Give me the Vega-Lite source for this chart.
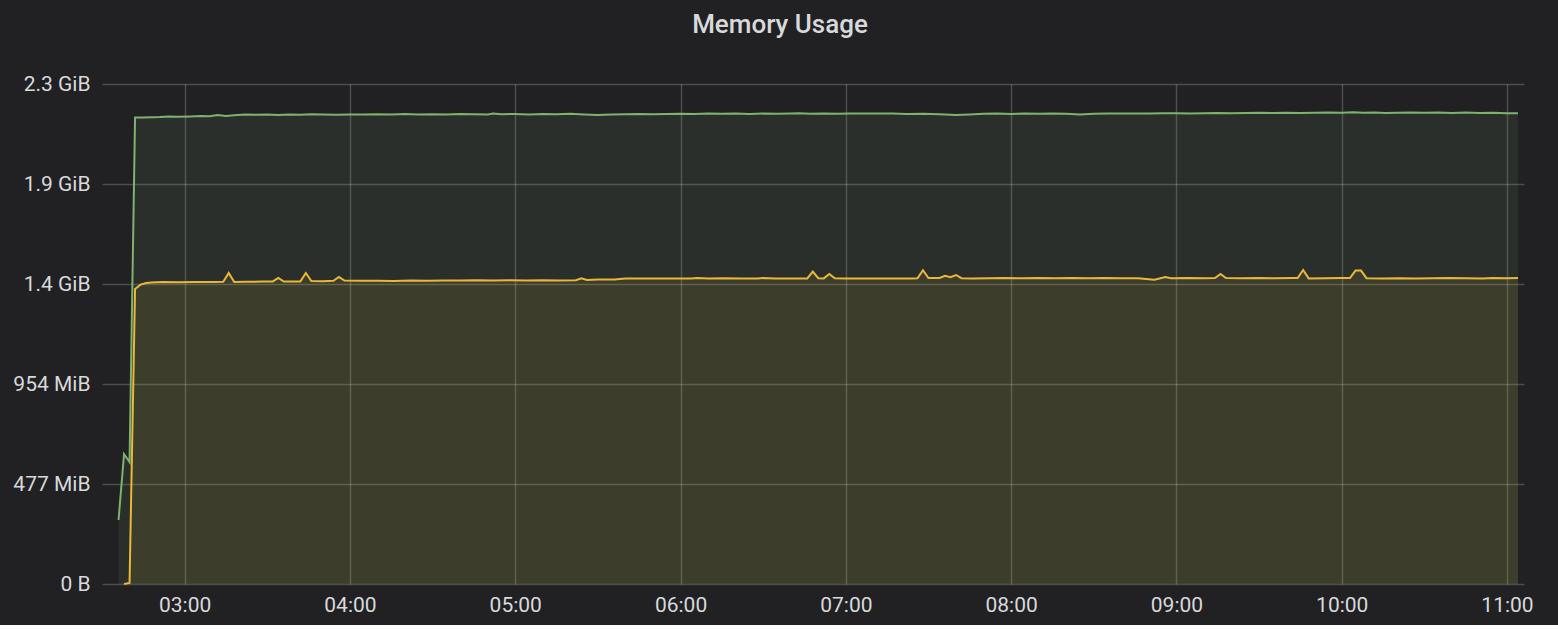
{
  "$schema": "https://vega.github.io/schema/vega-lite/v6.json",
  "width": 1422,
  "height": 500,
  "padding": {"left": 12, "top": 12, "right": 34, "bottom": 10},
  "background": "#212124",
  "title": {
    "text": "Memory Usage",
    "color": "#d8d9da",
    "font": "Roboto",
    "fontSize": 26,
    "fontWeight": 500,
    "anchor": "middle",
    "frame": "group",
    "dx": -33,
    "offset": 35
  },
  "config": {
    "view": {"stroke": null},
    "axis": {
      "labelColor": "#d8d9da",
      "labelFont": "Roboto",
      "labelFontSize": 21,
      "gridColor": "#ffffff",
      "gridOpacity": 0.2,
      "gridWidth": 1.5,
      "domain": false,
      "ticks": false,
      "title": null
    }
  },
  "datasets": {
    "green": [
      {"time": "2019-03-01T02:36:00", "gb": 0.32},
      {"time": "2019-03-01T02:38:00", "gb": 0.65},
      {"time": "2019-03-01T02:40:00", "gb": 0.61},
      {"time": "2019-03-01T02:42:00", "gb": 2.333},
      {"time": "2019-03-01T02:45:00", "gb": 2.332},
      {"time": "2019-03-01T02:48:00", "gb": 2.334},
      {"time": "2019-03-01T02:51:00", "gb": 2.335},
      {"time": "2019-03-01T02:54:00", "gb": 2.337},
      {"time": "2019-03-01T02:58:00", "gb": 2.336},
      {"time": "2019-03-01T03:02:00", "gb": 2.338},
      {"time": "2019-03-01T03:06:00", "gb": 2.34},
      {"time": "2019-03-01T03:09:00", "gb": 2.339},
      {"time": "2019-03-01T03:12:00", "gb": 2.345},
      {"time": "2019-03-01T03:15:00", "gb": 2.34},
      {"time": "2019-03-01T03:18:00", "gb": 2.344},
      {"time": "2019-03-01T03:22:00", "gb": 2.348},
      {"time": "2019-03-01T03:26:00", "gb": 2.346},
      {"time": "2019-03-01T03:30:00", "gb": 2.347},
      {"time": "2019-03-01T03:34:00", "gb": 2.345},
      {"time": "2019-03-01T03:38:00", "gb": 2.348},
      {"time": "2019-03-01T03:42:00", "gb": 2.346},
      {"time": "2019-03-01T03:46:00", "gb": 2.349},
      {"time": "2019-03-01T03:50:00", "gb": 2.347},
      {"time": "2019-03-01T03:55:00", "gb": 2.346},
      {"time": "2019-03-01T04:00:00", "gb": 2.348},
      {"time": "2019-03-01T04:05:00", "gb": 2.347},
      {"time": "2019-03-01T04:10:00", "gb": 2.349},
      {"time": "2019-03-01T04:15:00", "gb": 2.347},
      {"time": "2019-03-01T04:20:00", "gb": 2.35},
      {"time": "2019-03-01T04:25:00", "gb": 2.348},
      {"time": "2019-03-01T04:30:00", "gb": 2.349},
      {"time": "2019-03-01T04:35:00", "gb": 2.347},
      {"time": "2019-03-01T04:40:00", "gb": 2.35},
      {"time": "2019-03-01T04:45:00", "gb": 2.349},
      {"time": "2019-03-01T04:50:00", "gb": 2.348},
      {"time": "2019-03-01T04:52:00", "gb": 2.352},
      {"time": "2019-03-01T04:55:00", "gb": 2.349},
      {"time": "2019-03-01T05:00:00", "gb": 2.35},
      {"time": "2019-03-01T05:05:00", "gb": 2.348},
      {"time": "2019-03-01T05:10:00", "gb": 2.35},
      {"time": "2019-03-01T05:15:00", "gb": 2.349},
      {"time": "2019-03-01T05:20:00", "gb": 2.351},
      {"time": "2019-03-01T05:25:00", "gb": 2.348},
      {"time": "2019-03-01T05:30:00", "gb": 2.345},
      {"time": "2019-03-01T05:35:00", "gb": 2.347},
      {"time": "2019-03-01T05:40:00", "gb": 2.349},
      {"time": "2019-03-01T05:45:00", "gb": 2.35},
      {"time": "2019-03-01T05:50:00", "gb": 2.349},
      {"time": "2019-03-01T05:55:00", "gb": 2.35},
      {"time": "2019-03-01T06:00:00", "gb": 2.351},
      {"time": "2019-03-01T06:05:00", "gb": 2.35},
      {"time": "2019-03-01T06:10:00", "gb": 2.352},
      {"time": "2019-03-01T06:15:00", "gb": 2.351},
      {"time": "2019-03-01T06:20:00", "gb": 2.352},
      {"time": "2019-03-01T06:25:00", "gb": 2.35},
      {"time": "2019-03-01T06:30:00", "gb": 2.352},
      {"time": "2019-03-01T06:35:00", "gb": 2.351},
      {"time": "2019-03-01T06:40:00", "gb": 2.353},
      {"time": "2019-03-01T06:43:00", "gb": 2.354},
      {"time": "2019-03-01T06:47:00", "gb": 2.351},
      {"time": "2019-03-01T06:52:00", "gb": 2.353},
      {"time": "2019-03-01T06:57:00", "gb": 2.351},
      {"time": "2019-03-01T07:02:00", "gb": 2.353},
      {"time": "2019-03-01T07:07:00", "gb": 2.352},
      {"time": "2019-03-01T07:12:00", "gb": 2.353},
      {"time": "2019-03-01T07:17:00", "gb": 2.352},
      {"time": "2019-03-01T07:22:00", "gb": 2.35},
      {"time": "2019-03-01T07:28:00", "gb": 2.351},
      {"time": "2019-03-01T07:34:00", "gb": 2.349},
      {"time": "2019-03-01T07:40:00", "gb": 2.345},
      {"time": "2019-03-01T07:45:00", "gb": 2.348},
      {"time": "2019-03-01T07:50:00", "gb": 2.351},
      {"time": "2019-03-01T07:55:00", "gb": 2.352},
      {"time": "2019-03-01T08:00:00", "gb": 2.35},
      {"time": "2019-03-01T08:05:00", "gb": 2.352},
      {"time": "2019-03-01T08:10:00", "gb": 2.351},
      {"time": "2019-03-01T08:15:00", "gb": 2.353},
      {"time": "2019-03-01T08:20:00", "gb": 2.351},
      {"time": "2019-03-01T08:25:00", "gb": 2.348},
      {"time": "2019-03-01T08:30:00", "gb": 2.351},
      {"time": "2019-03-01T08:35:00", "gb": 2.353},
      {"time": "2019-03-01T08:40:00", "gb": 2.352},
      {"time": "2019-03-01T08:45:00", "gb": 2.353},
      {"time": "2019-03-01T08:50:00", "gb": 2.352},
      {"time": "2019-03-01T08:55:00", "gb": 2.354},
      {"time": "2019-03-01T09:00:00", "gb": 2.354},
      {"time": "2019-03-01T09:05:00", "gb": 2.353},
      {"time": "2019-03-01T09:10:00", "gb": 2.354},
      {"time": "2019-03-01T09:15:00", "gb": 2.355},
      {"time": "2019-03-01T09:20:00", "gb": 2.354},
      {"time": "2019-03-01T09:25:00", "gb": 2.355},
      {"time": "2019-03-01T09:30:00", "gb": 2.356},
      {"time": "2019-03-01T09:35:00", "gb": 2.355},
      {"time": "2019-03-01T09:40:00", "gb": 2.356},
      {"time": "2019-03-01T09:45:00", "gb": 2.355},
      {"time": "2019-03-01T09:50:00", "gb": 2.356},
      {"time": "2019-03-01T09:55:00", "gb": 2.357},
      {"time": "2019-03-01T10:00:00", "gb": 2.356},
      {"time": "2019-03-01T10:04:00", "gb": 2.359},
      {"time": "2019-03-01T10:08:00", "gb": 2.356},
      {"time": "2019-03-01T10:12:00", "gb": 2.357},
      {"time": "2019-03-01T10:16:00", "gb": 2.355},
      {"time": "2019-03-01T10:20:00", "gb": 2.356},
      {"time": "2019-03-01T10:25:00", "gb": 2.357},
      {"time": "2019-03-01T10:30:00", "gb": 2.356},
      {"time": "2019-03-01T10:35:00", "gb": 2.357},
      {"time": "2019-03-01T10:40:00", "gb": 2.355},
      {"time": "2019-03-01T10:45:00", "gb": 2.357},
      {"time": "2019-03-01T10:50:00", "gb": 2.355},
      {"time": "2019-03-01T10:55:00", "gb": 2.356},
      {"time": "2019-03-01T11:00:00", "gb": 2.354},
      {"time": "2019-03-01T11:04:00", "gb": 2.354}
    ],
    "yellow": [
      {"time": "2019-03-01T02:38:00", "gb": 0},
      {"time": "2019-03-01T02:40:00", "gb": 0.005},
      {"time": "2019-03-01T02:42:00", "gb": 1.475},
      {"time": "2019-03-01T02:44:00", "gb": 1.497},
      {"time": "2019-03-01T02:46:00", "gb": 1.505},
      {"time": "2019-03-01T02:48:00", "gb": 1.508},
      {"time": "2019-03-01T02:52:00", "gb": 1.51},
      {"time": "2019-03-01T02:58:00", "gb": 1.509},
      {"time": "2019-03-01T03:04:00", "gb": 1.51},
      {"time": "2019-03-01T03:10:00", "gb": 1.51},
      {"time": "2019-03-01T03:14:00", "gb": 1.511},
      {"time": "2019-03-01T03:16:00", "gb": 1.555},
      {"time": "2019-03-01T03:18:00", "gb": 1.51},
      {"time": "2019-03-01T03:22:00", "gb": 1.511},
      {"time": "2019-03-01T03:28:00", "gb": 1.512},
      {"time": "2019-03-01T03:32:00", "gb": 1.513},
      {"time": "2019-03-01T03:34:00", "gb": 1.53},
      {"time": "2019-03-01T03:36:00", "gb": 1.512},
      {"time": "2019-03-01T03:42:00", "gb": 1.513},
      {"time": "2019-03-01T03:44:00", "gb": 1.555},
      {"time": "2019-03-01T03:46:00", "gb": 1.515},
      {"time": "2019-03-01T03:50:00", "gb": 1.514},
      {"time": "2019-03-01T03:54:00", "gb": 1.516},
      {"time": "2019-03-01T03:56:00", "gb": 1.535},
      {"time": "2019-03-01T03:58:00", "gb": 1.517},
      {"time": "2019-03-01T04:04:00", "gb": 1.516},
      {"time": "2019-03-01T04:10:00", "gb": 1.516},
      {"time": "2019-03-01T04:16:00", "gb": 1.515},
      {"time": "2019-03-01T04:22:00", "gb": 1.517},
      {"time": "2019-03-01T04:28:00", "gb": 1.516},
      {"time": "2019-03-01T04:34:00", "gb": 1.518},
      {"time": "2019-03-01T04:40:00", "gb": 1.517},
      {"time": "2019-03-01T04:46:00", "gb": 1.519},
      {"time": "2019-03-01T04:52:00", "gb": 1.518},
      {"time": "2019-03-01T04:58:00", "gb": 1.519},
      {"time": "2019-03-01T05:04:00", "gb": 1.518},
      {"time": "2019-03-01T05:10:00", "gb": 1.519},
      {"time": "2019-03-01T05:16:00", "gb": 1.518},
      {"time": "2019-03-01T05:22:00", "gb": 1.519},
      {"time": "2019-03-01T05:24:00", "gb": 1.528},
      {"time": "2019-03-01T05:26:00", "gb": 1.52},
      {"time": "2019-03-01T05:30:00", "gb": 1.523},
      {"time": "2019-03-01T05:36:00", "gb": 1.523},
      {"time": "2019-03-01T05:40:00", "gb": 1.527},
      {"time": "2019-03-01T05:46:00", "gb": 1.528},
      {"time": "2019-03-01T05:52:00", "gb": 1.527},
      {"time": "2019-03-01T05:58:00", "gb": 1.528},
      {"time": "2019-03-01T06:04:00", "gb": 1.527},
      {"time": "2019-03-01T06:06:00", "gb": 1.53},
      {"time": "2019-03-01T06:10:00", "gb": 1.528},
      {"time": "2019-03-01T06:16:00", "gb": 1.529},
      {"time": "2019-03-01T06:22:00", "gb": 1.528},
      {"time": "2019-03-01T06:28:00", "gb": 1.527},
      {"time": "2019-03-01T06:30:00", "gb": 1.53},
      {"time": "2019-03-01T06:34:00", "gb": 1.528},
      {"time": "2019-03-01T06:40:00", "gb": 1.528},
      {"time": "2019-03-01T06:46:00", "gb": 1.528},
      {"time": "2019-03-01T06:48:00", "gb": 1.562},
      {"time": "2019-03-01T06:50:00", "gb": 1.529},
      {"time": "2019-03-01T06:52:00", "gb": 1.528},
      {"time": "2019-03-01T06:54:00", "gb": 1.55},
      {"time": "2019-03-01T06:56:00", "gb": 1.529},
      {"time": "2019-03-01T07:00:00", "gb": 1.528},
      {"time": "2019-03-01T07:06:00", "gb": 1.527},
      {"time": "2019-03-01T07:12:00", "gb": 1.528},
      {"time": "2019-03-01T07:18:00", "gb": 1.527},
      {"time": "2019-03-01T07:24:00", "gb": 1.528},
      {"time": "2019-03-01T07:26:00", "gb": 1.529},
      {"time": "2019-03-01T07:28:00", "gb": 1.569},
      {"time": "2019-03-01T07:30:00", "gb": 1.53},
      {"time": "2019-03-01T07:34:00", "gb": 1.53},
      {"time": "2019-03-01T07:36:00", "gb": 1.541},
      {"time": "2019-03-01T07:38:00", "gb": 1.534},
      {"time": "2019-03-01T07:40:00", "gb": 1.545},
      {"time": "2019-03-01T07:42:00", "gb": 1.529},
      {"time": "2019-03-01T07:46:00", "gb": 1.527},
      {"time": "2019-03-01T07:52:00", "gb": 1.529},
      {"time": "2019-03-01T07:58:00", "gb": 1.53},
      {"time": "2019-03-01T08:04:00", "gb": 1.529},
      {"time": "2019-03-01T08:10:00", "gb": 1.53},
      {"time": "2019-03-01T08:16:00", "gb": 1.529},
      {"time": "2019-03-01T08:22:00", "gb": 1.53},
      {"time": "2019-03-01T08:28:00", "gb": 1.529},
      {"time": "2019-03-01T08:34:00", "gb": 1.53},
      {"time": "2019-03-01T08:40:00", "gb": 1.529},
      {"time": "2019-03-01T08:46:00", "gb": 1.529},
      {"time": "2019-03-01T08:52:00", "gb": 1.521},
      {"time": "2019-03-01T08:56:00", "gb": 1.535},
      {"time": "2019-03-01T08:58:00", "gb": 1.529},
      {"time": "2019-03-01T09:04:00", "gb": 1.53},
      {"time": "2019-03-01T09:10:00", "gb": 1.529},
      {"time": "2019-03-01T09:14:00", "gb": 1.53},
      {"time": "2019-03-01T09:16:00", "gb": 1.55},
      {"time": "2019-03-01T09:18:00", "gb": 1.53},
      {"time": "2019-03-01T09:24:00", "gb": 1.529},
      {"time": "2019-03-01T09:30:00", "gb": 1.53},
      {"time": "2019-03-01T09:36:00", "gb": 1.529},
      {"time": "2019-03-01T09:42:00", "gb": 1.53},
      {"time": "2019-03-01T09:44:00", "gb": 1.53},
      {"time": "2019-03-01T09:46:00", "gb": 1.57},
      {"time": "2019-03-01T09:48:00", "gb": 1.528},
      {"time": "2019-03-01T09:54:00", "gb": 1.529},
      {"time": "2019-03-01T10:00:00", "gb": 1.53},
      {"time": "2019-03-01T10:03:00", "gb": 1.53},
      {"time": "2019-03-01T10:05:00", "gb": 1.567},
      {"time": "2019-03-01T10:07:00", "gb": 1.567},
      {"time": "2019-03-01T10:09:00", "gb": 1.529},
      {"time": "2019-03-01T10:15:00", "gb": 1.528},
      {"time": "2019-03-01T10:21:00", "gb": 1.529},
      {"time": "2019-03-01T10:27:00", "gb": 1.528},
      {"time": "2019-03-01T10:33:00", "gb": 1.529},
      {"time": "2019-03-01T10:39:00", "gb": 1.53},
      {"time": "2019-03-01T10:45:00", "gb": 1.529},
      {"time": "2019-03-01T10:51:00", "gb": 1.527},
      {"time": "2019-03-01T10:55:00", "gb": 1.53},
      {"time": "2019-03-01T11:00:00", "gb": 1.529},
      {"time": "2019-03-01T11:04:00", "gb": 1.53}
    ]
  },
  "encoding": {
    "x": {
      "field": "time",
      "type": "temporal",
      "scale": {
        "domain": [
          {"year": 2019, "month": 3, "date": 1, "hours": 2, "minutes": 30},
          {"year": 2019, "month": 3, "date": 1, "hours": 11, "minutes": 6, "seconds": 10}
        ]
      },
      "axis": {
        "format": "%H:%M",
        "tickCount": 9,
        "labelPadding": 10,
        "labelFlush": false,
        "grid": true
      }
    },
    "y": {
      "field": "gb",
      "type": "quantitative",
      "scale": {"domain": [0, 2.5], "nice": false},
      "axis": {
        "values": [0, 0.5, 1, 1.5, 2, 2.5],
        "labelPadding": 12,
        "grid": true,
        "labelExpr": "datum.value == 0 ? '0 B' : (datum.value * 1e9 < 1073741824 ? format(datum.value * 1e9 / 1048576, '.0f') + ' MiB' : format(datum.value * 1e9 / 1073741824, '.1f') + ' GiB')"
      }
    }
  },
  "layer": [
    {"data": {"name": "green"}, "mark": {"type": "area", "color": "#7eb26d", "opacity": 0.1}},
    {"data": {"name": "green"}, "mark": {"type": "line", "color": "#7eb26d", "strokeWidth": 2}},
    {"data": {"name": "yellow"}, "mark": {"type": "area", "color": "#eab839", "opacity": 0.1}},
    {"data": {"name": "yellow"}, "mark": {"type": "line", "color": "#eab839", "strokeWidth": 2}}
  ]
}
